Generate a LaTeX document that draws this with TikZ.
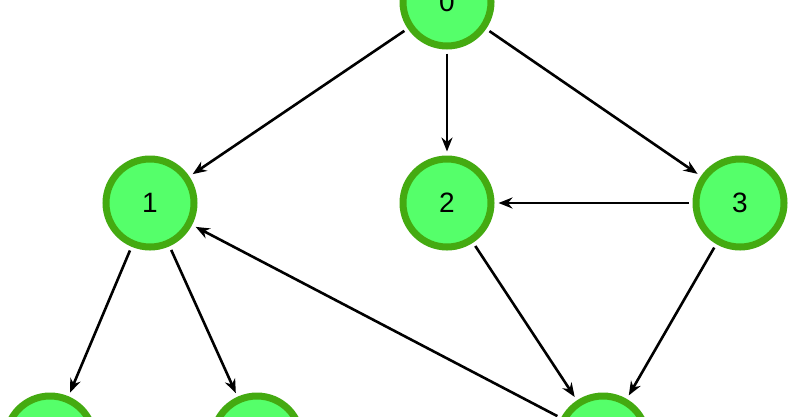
\documentclass[tikz,border=0pt]{standalone}
\usepackage{fontspec}
\setmainfont{Liberation Sans}
\usetikzlibrary{arrows.meta}
\definecolor{nodefill}{HTML}{55FF6A}
\definecolor{noderim}{HTML}{44AA11}
\tikzset{
  vertex/.style={circle, draw=noderim, fill=nodefill, line width=7pt,
    minimum size=88pt, inner sep=0pt, font=\fontsize{28}{32}\selectfont},
  edge/.style={-{Stealth[length=14pt,width=11pt]}, line width=2.6pt, shorten >=4pt, shorten <=4pt}
}
\begin{document}
\begin{tikzpicture}[x=1pt,y=-1pt]
    \useasboundingbox (0,0) rectangle (791,416);

    \node[vertex] (n0) at (447,2) {0};
    \node[vertex] (n1) at (150,203) {1};
    \node[vertex] (n2) at (447,203) {2};
    \node[vertex] (n3) at (740,203) {3};
    \node[vertex] (n4) at (50,440) {};
    \node[vertex] (n5) at (257,440) {};
    \node[vertex] (n6) at (603,440) {};

    \draw[edge] (n0) -- (n1);
    \draw[edge] (n0) -- (n2);
    \draw[edge] (n0) -- (n3);
    \draw[edge] (n3) -- (n2);
    \draw[edge] (n1) -- (n4);
    \draw[edge] (n1) -- (n5);
    \draw[edge] (n2) -- (n6);
    \draw[edge] (n3) -- (n6);
    \draw[edge] (n6) -- (n1);

\end{tikzpicture}
\end{document}
